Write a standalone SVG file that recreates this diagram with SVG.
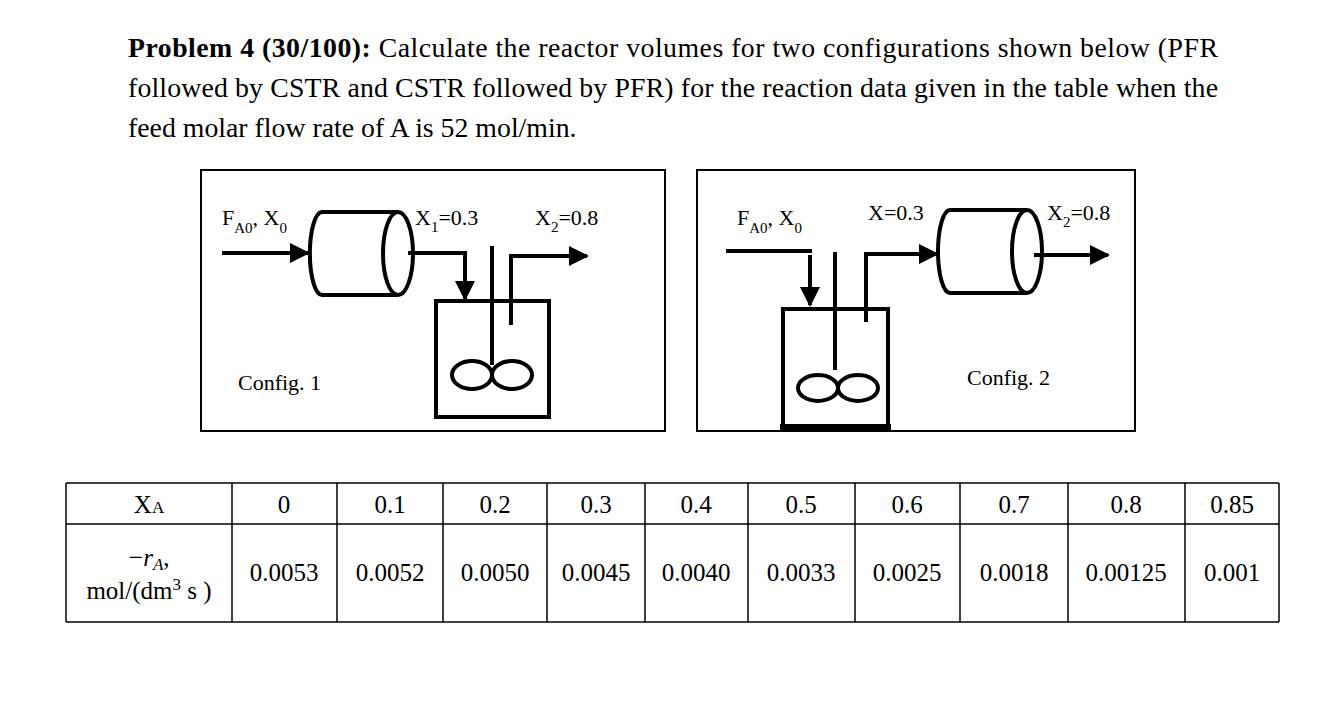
<svg xmlns="http://www.w3.org/2000/svg" width="1339" height="707" viewBox="0 0 1339 707" font-family="'Liberation Serif','DejaVu Serif',serif">
<style>
text{font-family:'Liberation Serif','DejaVu Serif',serif;fill:#000}
.t{font-size:27.8px}
.l{font-size:22px}
.c{font-size:25px;text-anchor:middle}
.s{stroke:#000;fill:none}
.b{stroke:#000;stroke-width:2;fill:#fff}
.g{stroke:#000;stroke-width:1.5}
</style>
<defs><marker id="ah" viewBox="0 0 10 10" refX="9" refY="5" markerWidth="6" markerHeight="5" markerUnits="strokeWidth" orient="auto"><path d="M0,0L10,5L0,10z" fill="#000"/></marker></defs>
<rect width="1339" height="707" fill="#fff"/>
<text class="t" x="128" y="57" textLength="1090"><tspan font-weight="bold">Problem 4 (30/100):</tspan> Calculate the reactor volumes for two configurations shown below (PFR</text>
<text class="t" x="128" y="97" textLength="1090">followed by CSTR and CSTR followed by PFR) for the reaction data given in the table when the</text>
<text class="t" x="128" y="137">feed molar flow rate of A is 52 mol/min.</text>
<g id="config1">
<rect class="b" x="201" y="170" width="464" height="261"/>
<path class="s" stroke-width="4" d="M398,212H322A12,41 0 0 0 322,295H398"/>
<ellipse class="s" stroke-width="4" cx="398" cy="253.5" rx="15" ry="41.5"/>
<rect class="s" stroke-width="4" x="436" y="301" width="113" height="116"/>
<line class="s" stroke-width="4" x1="492" y1="246" x2="492" y2="365"/>
<ellipse class="s" stroke-width="4" cx="472" cy="375" rx="20" ry="14"/>
<ellipse class="s" stroke-width="4" cx="512" cy="375" rx="20" ry="14"/>
<text class="l" x="222" y="225">F<tspan font-size="15" dy="8">A0</tspan><tspan dy="-8">, X</tspan><tspan font-size="15" dy="8">0</tspan></text>
<text class="l" x="415" y="225">X<tspan font-size="15" dy="7">1</tspan><tspan dy="-7">=0.3</tspan></text>
<text class="l" x="535" y="225">X<tspan font-size="15" dy="7">2</tspan><tspan dy="-7">=0.8</tspan></text>
<text class="l" x="238" y="390">Config. 1</text>
</g>
<g id="config2">
<rect class="b" x="697" y="170" width="438" height="261"/>
<path class="s" stroke-width="4" d="M1027,210H950A12,41.5 0 0 0 950,293H1027"/>
<ellipse class="s" stroke-width="4" cx="1027" cy="251.5" rx="15" ry="41.5"/>
<path class="s" stroke-width="4" d="M783,427V309H888V427"/>
<line stroke="#000" stroke-width="6" x1="780" y1="427" x2="891" y2="427"/>
<line class="s" stroke-width="4" x1="835" y1="252" x2="835" y2="370"/>
<ellipse class="s" stroke-width="4" cx="818" cy="388" rx="20" ry="13"/>
<ellipse class="s" stroke-width="4" cx="858" cy="388" rx="20" ry="13"/>
<text class="l" x="737" y="225">F<tspan font-size="15" dy="8">A0</tspan><tspan dy="-8">, X</tspan><tspan font-size="15" dy="8">0</tspan></text>
<text class="l" x="868" y="220">X=0.3</text>
<text class="l" x="1047" y="220">X<tspan font-size="15" dy="7">2</tspan><tspan dy="-7">=0.8</tspan></text>
<text class="l" x="967" y="385">Config. 2</text>
</g>
<g id="connectors" class="s" stroke-width="4">
<line x1="222" y1="253" x2="308" y2="253" marker-end="url(#ah)"/>
<path d="M408,253H465V299" marker-end="url(#ah)"/>
<path d="M511,325V256H587" marker-end="url(#ah)"/>
<line x1="726" y1="251" x2="812" y2="251"/>
<line x1="810" y1="255" x2="810" y2="305" marker-end="url(#ah)"/>
<path d="M866,322V254H937" marker-end="url(#ah)"/>
<line x1="1034" y1="255" x2="1108" y2="255" marker-end="url(#ah)"/>
</g>
<g id="table">
<g class="g">
<line x1="66" y1="483" x2="1279" y2="483"/>
<line x1="66" y1="524" x2="1279" y2="524"/>
<line x1="66" y1="622" x2="1279" y2="622"/>
<line x1="66" y1="483" x2="66" y2="622"/>
<line x1="232" y1="483" x2="232" y2="622"/>
<line x1="337" y1="483" x2="337" y2="622"/>
<line x1="443" y1="483" x2="443" y2="622"/>
<line x1="547" y1="483" x2="547" y2="622"/>
<line x1="645" y1="483" x2="645" y2="622"/>
<line x1="748" y1="483" x2="748" y2="622"/>
<line x1="855" y1="483" x2="855" y2="622"/>
<line x1="960" y1="483" x2="960" y2="622"/>
<line x1="1068" y1="483" x2="1068" y2="622"/>
<line x1="1185" y1="483" x2="1185" y2="622"/>
<line x1="1279" y1="483" x2="1279" y2="622"/>
</g>
<text class="c" x="149" y="513">X<tspan font-size="17">A</tspan></text>
<text class="c" x="149" y="566"><tspan font-size="26">−</tspan><tspan font-style="italic">r<tspan font-size="17" dy="4">A</tspan></tspan><tspan dy="-4">,</tspan></text>
<text class="c" x="149" y="599">mol/(dm<tspan font-size="17" dy="-9">3</tspan><tspan dy="9"> s )</tspan></text>
<text class="c" x="284" y="513">0</text><text class="c" x="390" y="513">0.1</text><text class="c" x="495" y="513">0.2</text><text class="c" x="596" y="513">0.3</text><text class="c" x="696" y="513">0.4</text><text class="c" x="801" y="513">0.5</text><text class="c" x="907" y="513">0.6</text><text class="c" x="1014" y="513">0.7</text><text class="c" x="1126" y="513">0.8</text><text class="c" x="1232" y="513">0.85</text>
<text class="c" x="284" y="581">0.0053</text><text class="c" x="390" y="581">0.0052</text><text class="c" x="495" y="581">0.0050</text><text class="c" x="596" y="581">0.0045</text><text class="c" x="696" y="581">0.0040</text><text class="c" x="801" y="581">0.0033</text><text class="c" x="907" y="581">0.0025</text><text class="c" x="1014" y="581">0.0018</text><text class="c" x="1126" y="581">0.00125</text><text class="c" x="1232" y="581">0.001</text>
</g>
</svg>
